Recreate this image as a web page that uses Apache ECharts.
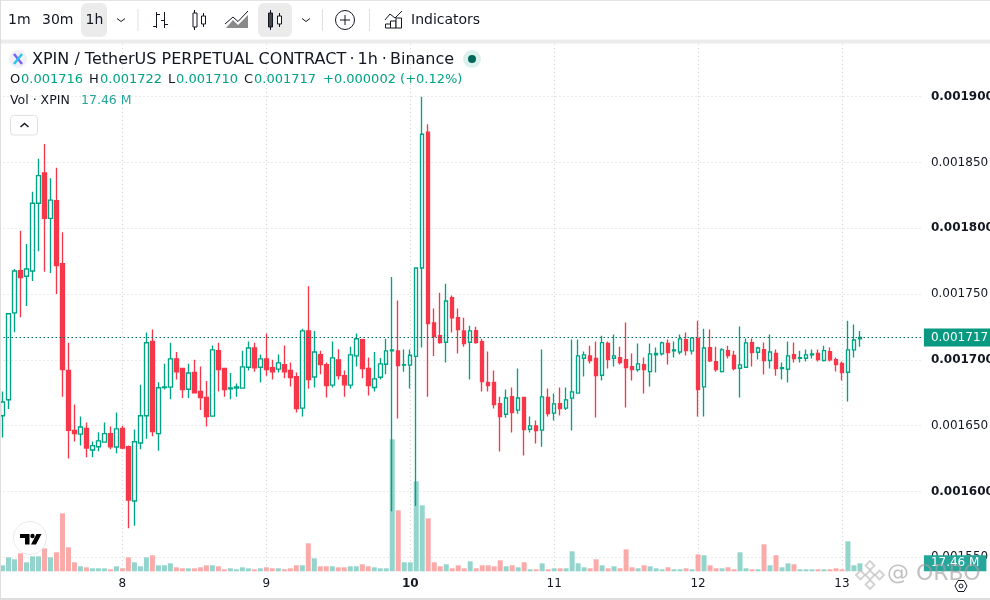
<!DOCTYPE html>
<html><head><meta charset="utf-8">
<style>html,body{margin:0;padding:0;background:#fff}#c{width:990px;height:600px}</style>
<script src="https://cdn.jsdelivr.net/npm/echarts@6/dist/echarts.min.js"></script>
</head><body><div id="c"></div>
<script>
// prices are in millionths of a USDT (1716 = 0.001716)
const opens=[1657.5,1669.7,1735.7,1767.8,1763.5,1767.5,1819,1842,1807.5,1821,1773,1692,1646.4,1643.6,1648,1631.5,1634,1637.5,1644,1633.8,
1648,1634,1592.8,1636.8,1657.5,1714,1644,1679,1679.3,1700.8,1693.4,1677.7,1690.4,1676,1671.4,1657.3,1707,1693.4,1678,1678.5,
1678.5,1694.4,1709,1694.4,1700.7,1694,1693,1696.4,1692,1687.3,1663.3,1722,1687,1704,1696.4,1680.8,1700,1688,1680.8,1703,
1715.4,1693.4,1679,1686.8,1696.7,1706.9,1706.8,1696,1696,1702.7,1769.8,1873,1728,1718.4,1713.4,1747.2,1732,1722,1713.4,1722.2,
1713.9,1682.8,1682.8,1666.8,1658.7,1672,1661.8,1671.4,1647.3,1649.9,1646.6,1671.4,1659.5,1666.8,1663.3,1670.9,1674.7,1701.2,1703,1701,
1688.3,1712.4,1701.2,1701.7,1700.2,1694.9,1692.6,1696.4,1691.1,1703.8,1704.5,1712.4,1706.8,1706,1715.4,1706.8,1716.2,1679.5,1709.3,1698.7,
1691.1,1707,1703.3,1693.6,1694.4,1713.1,1705.8,1707.8,1699.5,1704.8,1693.4,1692.9,1704,1701.2,1701.2,1703.8,1704.8,1699.5,1706.3,1700.2,
1697.2,1690.6,1707.6,1716];
const closes=[1668,1735,1767.5,1762.5,1769,1819,1840,1807.5,1821.4,1771.6,1692.7,1646.4,1644,1649,1633,1634.8,1638.5,1644,1634,1647.6,
1633,1593.5,1637.8,1657.5,1713,1645.6,1678.8,1679.5,1700.8,1691,1677.5,1690,1675,1671.4,1657,1707.6,1692.7,1677.5,1678.7,1679.5,
1694.7,1709,1694,1700.7,1692.6,1691,1697.7,1691,1686.6,1663,1722,1685,1706,1696.4,1680.5,1701.5,1688,1681,1703.8,1716,
1693.4,1680.5,1685.5,1697,1706.8,1707.5,1695.7,1696.3,1703.5,1769.8,1871.4,1727.5,1717.7,1713.1,1744.7,1732,1723,1712.3,1722,1713.1,
1683.5,1680.5,1666,1657,1671,1660,1671,1647,1649.9,1646.3,1671.9,1659.2,1666.6,1663,1669.6,1675.7,1703,1703.8,1699.5,1688,
1713.1,1700.2,1703,1698,1694.1,1692.6,1696.9,1692.6,1704.5,1704.8,1712.9,1705.5,1707.5,1715.9,1707,1716.7,1677.5,1709,1699.2,1692.6,
1707.6,1703.3,1693.4,1696.2,1712.9,1705.5,1709,1699.5,1706,1693.4,1694.1,1703,1701,1701.7,1703.8,1704.5,1700.2,1707,1700,1696.4,
1690.4,1707.6,1715.1,1717];
const lows=[1641,1662.6,1721,1732.4,1741,1760,1782.5,1767,1766,1750,1672,1625,1638,1635,1626,1626,1630.5,1637.5,1632,1629,
1632,1572,1574,1632,1640,1642,1631,1677.5,1670,1685,1671,1671,1674.5,1662,1649.4,1657,1676,1672,1670,1672,
1678,1692,1691,1682.8,1688,1685,1690.4,1686,1679.7,1660,1657,1678,1679,1689,1671.4,1679,1685,1672,1678,1695,
1686,1673,1676,1685,1689,1585,1655.4,1691,1678.2,1589,1709.3,1672,1703,1712.3,1698,1720.7,1704.8,1710,1685,1712.3,
1676,1676,1663,1630.4,1656,1644.8,1659,1627.4,1644.8,1636.5,1634,1657,1654,1657.7,1662,1646.4,1674.7,1687.3,1697.2,1656.2,
1684.3,1693.4,1694.9,1696.4,1663.8,1684.3,1691,1674.4,1679.7,1690.4,1703.3,1696.4,1701.7,1704,1703.3,1704,1657,1657,1698.4,1691,
1690.4,1701,1691.9,1671.4,1694,1694.9,1700.2,1688.8,1693.4,1688,1685,1682.8,1698,1698,1698.7,1701,1698.7,1698.7,1698.7,1691.1,
1684.3,1668.4,1701.7,1710];
const highs=[1676,1735,1769,1798,1788,1827.7,1852.8,1864,1838,1846,1797,1713,1666,1657,1652.5,1638,1645,1652.5,1649.4,1660,
1650,1635,1647,1681,1720.7,1723,1683,1697,1713,1706,1694,1697,1700,1695,1684,1711,1713,1694,1690,1682,
1707,1714,1713,1704,1720,1700,1704,1711,1698,1690.4,1723.7,1756,1722,1707,1698,1714,1708,1692,1710,1720,
1716,1701.7,1706,1701.5,1716,1763,1745,1707.8,1707.8,1770,1899.8,1879,1739,1751,1757.9,1748.8,1739,1732,1726,1725.2,
1716,1706.3,1691.9,1672,1677.4,1679,1693.4,1671.4,1657,1654,1707.8,1678.2,1674.4,1679,1679,1715.4,1715.4,1706.3,1710.8,1713.9,
1718.4,1713.9,1719.2,1710,1728.3,1704.8,1712.4,1701.7,1712.4,1709.3,1713.9,1715.4,1713.9,1719.2,1720.7,1716.7,1729.8,1723.7,1723,1710,
1709,1710.8,1707,1725.3,1716.2,1716.2,1710,1713.1,1719.2,1707.8,1698,1713.9,1713.1,1707,1707.8,1707.8,1707.8,1710.8,1709.3,1701.7,
1698.7,1729.8,1726.8,1722];
// volume in millions of XPIN
const volumes=[13.1,30.5,26.2,39.2,19.6,32.7,32.7,50,30.5,41.4,126.4,52.3,19.6,10.9,8.7,6.5,6.5,6.5,4.4,10.9,
6.5,30.5,19.6,10.9,30.5,34.9,13.1,13.1,17.46,8.7,6.5,6.5,6.5,8.7,13.1,13.1,10.9,4.4,6.5,4.4,
8.7,6.5,4.4,6.5,8.7,6.5,6.5,4.4,6.5,13.1,13.1,61,28.3,10.9,10.9,10.9,8.7,8.7,10.9,10.9,
15.3,10.9,8.7,6.5,6.5,287.8,133,19.6,19.6,196.2,143.9,115.5,19.6,10.9,15.3,6.5,13.1,6.5,21.8,6.5,
13.1,13.1,10.9,24,10.9,13.1,8.7,19.6,4.4,4.4,17.46,4.4,6.5,6.5,6.5,43.6,17.46,8.7,6.5,26.2,
13.1,6.5,10.9,6.5,48,8.7,6.5,13.1,10.9,6.5,4.4,8.7,4.4,4.4,6.5,4.4,37,34.9,13.1,6.5,
6.5,8.7,4.4,41.4,6.5,4.4,4.4,58.9,13.1,34.9,8.7,17.46,15.3,4.4,4.4,4.4,4.4,4.4,4.4,6.5,
4.4,65.4,13.1,17.46];
const yTicks={min:1550,max:1900,step:50};
const lastPrice=1717, lastVolume=17.46;
const categories=[];
for(let i=0,d=7,h=4;i<154;i++){categories.push(d+' '+String(h).padStart(2,'0')+':00');h++;if(h===24){h=0;d++;}}
const UP='#00a383',DOWN='#f6374a',UPV='#93d4cc',DOWNV='#fbaaaa';
const FONT='"DejaVu Sans"';
const candleData=opens.map((o,i)=>[o,closes[i],lows[i],highs[i]]);
const volumeData=volumes.map((v,i)=>({value:v,itemStyle:{color:closes[i]>=opens[i]?UPV:DOWNV}}));

const txt=(x,y,t,o={})=>({type:'text',z:50,x,y,style:Object.assign({text:t,font:'13px '+FONT,fill:'#131722',textVerticalAlign:'middle'},o)});
const rect=(x,y,w,h,o={},r=0)=>({type:'rect',z:o.z||40,shape:{x,y,width:w,height:h,r},style:o});
const line=(pts,o={})=>({type:'polyline',z:50,shape:{points:pts},style:Object.assign({stroke:'#131722',lineWidth:1,fill:null},o)});
const poly=(pts,o={})=>({type:'polygon',z:o.z||50,shape:{points:pts},style:o});
const circ=(cx,cy,r,o={})=>({type:'circle',z:o.z||50,shape:{cx,cy,r},style:o});
const K='#131722';
const TF='16px '+FONT;
const graphics=[
 rect(0,0,990,1,{fill:'#e3e3e3'}),
 rect(0,39.5,990,4,{fill:'#ececec'}),
 rect(0,598,990,2,{fill:'#dedede'}),
 rect(0,0,1,600,{fill:'#dedede'}),
 // toolbar
 rect(81,3,26,34,{fill:'#ebebeb'},6),
 rect(258,3,34,34,{fill:'#ebebeb'},6),
 txt(8,20,'1m',{font:'14px '+FONT}),txt(42,20,'30m',{font:'14px '+FONT}),txt(85.5,20,'1h',{font:'14px '+FONT}),
 line([[117,18.5],[121,21.5],[125,18.5]]),
 rect(137.5,9,1,22,{fill:'#e0e0e0'}),
 line([[156.5,12],[156.5,28]]),line([[153,26.5],[156.5,26.5]]),line([[156.5,14.5],[160,14.5]]),
 line([[164.5,12],[164.5,28]]),line([[161,20.5],[164.5,20.5]]),line([[164.5,24.5],[168,24.5]]),
 line([[194.5,10],[194.5,13]]),line([[194.5,27],[194.5,30]]),rect(193,13,4,14,{fill:'#fff',stroke:K,lineWidth:1,z:50}),
 line([[203.5,13],[203.5,16]]),line([[203.5,24],[203.5,27]]),rect(201.5,16,4,8,{fill:'#fff',stroke:K,lineWidth:1,z:50}),
 poly([[226,28],[233,20],[238,25],[248,15],[248,28]],{fill:'#8a8a8a'}),
 line([[225,24],[233,17],[238,21.5],[248,11]]),
 line([[270.5,10],[270.5,30]]),rect(268.5,13,4,14,{fill:'#444',stroke:K,lineWidth:1,z:50}),
 line([[279.5,13],[279.5,27]]),rect(277.5,16,4,8,{fill:'#fff',stroke:K,lineWidth:1,z:50}),
 line([[302,18.5],[306,21.5],[310,18.5]]),
 rect(322,9,1,22,{fill:'#e0e0e0'}),
 circ(345,20,9.5,{fill:'#fff',stroke:K,lineWidth:1}),
 line([[345,15],[345,25]]),line([[340,20],[350,20]]),
 rect(369,9,1,22,{fill:'#e0e0e0'}),
 line([[385,20],[390,14],[395,18],[402,11]]),
 rect(385.5,24,5,4,{fill:'#fff',stroke:K,lineWidth:1,z:50}),
 rect(390.5,21,5.5,7,{fill:'#fff',stroke:K,lineWidth:1,z:50}),
 rect(396,18,5.5,10,{fill:'#fff',stroke:K,lineWidth:1,z:50}),
 txt(411,20,'Indicators',{font:'14px '+FONT}),
 // legend
 circ(18,59,9,{fill:'#f0f0f4'}),
 line([[14,54],[22,64]],{stroke:'#7a5cff',lineWidth:2.4}),line([[22,54],[14,64]],{stroke:'#27c6e8',lineWidth:2.4}),
 txt(32,59.5,'XPIN / TetherUS PERPETUAL CONTRACT',{font:TF}),
 txt(349.5,59.5,'·',{font:TF}),txt(357.5,59.5,'1h',{font:TF}),txt(381.8,59.5,'·',{font:TF}),txt(390,59.5,'Binance',{font:TF}),
 circ(472,59,9,{fill:'#dcf1ed'}),circ(472,59,4,{fill:'#00695c'}),
 txt(10,79.5,'O'),txt(21,79.5,'0.001716',{fill:UP}),
 txt(89,79.5,'H'),txt(100,79.5,'0.001722',{fill:UP}),
 txt(168,79.5,'L'),txt(176,79.5,'0.001710',{fill:UP}),
 txt(244,79.5,'C'),txt(254,79.5,'0.001717',{fill:UP}),
 txt(323,79.5,'+0.000002 (+0.12%)',{fill:UP}),
 txt(10,100.5,'Vol · XPIN',{font:'12.5px '+FONT}),txt(81,100.5,'17.46 M',{font:'12.5px '+FONT,fill:'#26a69a'}),
 rect(10.5,115.5,27,19.5,{fill:'#fff',stroke:'#e0e0e0',lineWidth:1,z:50},3),
 line([[20.5,127],[24.5,123.5],[28.5,127]],{lineWidth:1.4}),
 // TradingView badge
 circ(30,538,16.5,{fill:'#fff',stroke:'#e8e8e8',lineWidth:1}),
 poly([[20,534],[29.5,534],[29.5,544.5],[25,544.5],[25,538],[20,538]],{fill:'#000'}),
 circ(32.5,536,2.2,{fill:'#000'}),
 poly([[36.5,534],[41.5,534],[36,544.5],[31,544.5]],{fill:'#000'}),
 // settings hexagon
 poly([[955,586],[958,580.5],[964,580.5],[967,586],[964,591.5],[958,591.5]],{fill:'#fff',stroke:K,lineWidth:1}),
 circ(961,586,2,{fill:'#fff',stroke:K,lineWidth:1}),
 // watermark
 ...[[870,565.5,4.5],[860.5,575,4.5],[879.5,575,4.5],[870,584.5,4.5],[870,575,4.5]].map(([x,y,r])=>poly([[x-r,y],[x,y-r],[x+r,y],[x,y+r]],{fill:'rgba(255,255,255,.55)',stroke:'rgba(190,190,190,.7)',lineWidth:1.8,z:60})),
 {type:'text',z:60,x:887,y:574,style:{text:'@ ORBO',font:'22px '+FONT,fill:'rgba(160,160,160,.65)',textVerticalAlign:'middle',shadowColor:'rgba(255,255,255,.9)',shadowBlur:3}}
];
const option={
 animation:false,
 textStyle:{fontFamily:FONT},
 grid:[
  {left:-0.5,width:923.4,top:96.6,height:460.7,outerBoundsMode:'none',containLabel:false},
  {left:-0.5,width:923.4,top:44,height:527.3,outerBoundsMode:'none',containLabel:false}
 ],
 xAxis:[
  {type:'category',gridIndex:0,data:categories,boundaryGap:true,show:false},
  {type:'category',gridIndex:1,data:categories,boundaryGap:true,
   axisLine:{show:false},axisTick:{show:false},
   splitLine:{show:true,alignWithLabel:true,interval:(i,v)=>v.endsWith(' 00:00'),lineStyle:{color:'#d4d4d4',type:[1,3],width:1}},
   axisLabel:{interval:(i,v)=>v.endsWith(' 00:00'),margin:7,fontSize:12,color:'#131722',fontFamily:FONT,
    formatter:v=>{const d=v.split(' ')[0];return d==='10'?'{b|'+d+'}':d;},
    rich:{b:{fontWeight:'bold',fontSize:12,color:'#131722',fontFamily:FONT}}}}
 ],
 yAxis:[
  {type:'value',gridIndex:0,position:'right',min:yTicks.min,max:yTicks.max,interval:yTicks.step,
   axisLine:{show:false},axisTick:{show:false},
   splitLine:{show:true,lineStyle:{color:'#d4d4d4',type:[1,3],width:1}},
   axisLabel:{margin:8,fontSize:12,color:'#131722',fontFamily:FONT,
    formatter:v=>{const s=(v/1e6).toFixed(6);return (v%100===0)?'{b|'+s+'}':s;},
    rich:{b:{fontWeight:'bold',fontSize:12,color:'#131722',fontFamily:FONT}}}},
  {type:'value',gridIndex:1,min:0,max:1150,show:false,splitLine:{show:false}}
 ],
 series:[
  {type:'bar',xAxisIndex:1,yAxisIndex:1,data:volumeData,barWidth:5,z:1,silent:true,
   markLine:{silent:true,symbol:'none',precision:2,animation:false,
    lineStyle:{color:'rgba(0,0,0,0)',width:0},
    data:[{yAxis:lastVolume}],
    label:{show:true,position:'end',distance:1,formatter:'17.46 M',color:'#fff',fontSize:12,fontFamily:FONT,backgroundColor:'#26a69a',padding:[2,7,2,7]}}},
  {type:'candlestick',xAxisIndex:0,yAxisIndex:0,data:candleData,barWidth:4,z:3,silent:true,
   itemStyle:{color:'rgba(255,255,255,0)',color0:DOWN,borderColor:UP,borderColor0:DOWN,borderColorDoji:UP,borderWidth:1.35},
   markLine:{silent:true,symbol:'none',precision:0,animation:false,
    lineStyle:{color:'#00695c',type:[1.5,2.5],width:1},
    data:[{yAxis:lastPrice}],
    label:{position:'end',distance:1,formatter:(lastPrice/1e6).toFixed(6),color:'#fff',fontSize:12,fontFamily:FONT,backgroundColor:'#089981',padding:[3,7,3,7]}}}
 ],
 graphic:graphics
};
echarts.init(document.getElementById('c'),null,{renderer:'canvas'}).setOption(option);
</script></body></html>
